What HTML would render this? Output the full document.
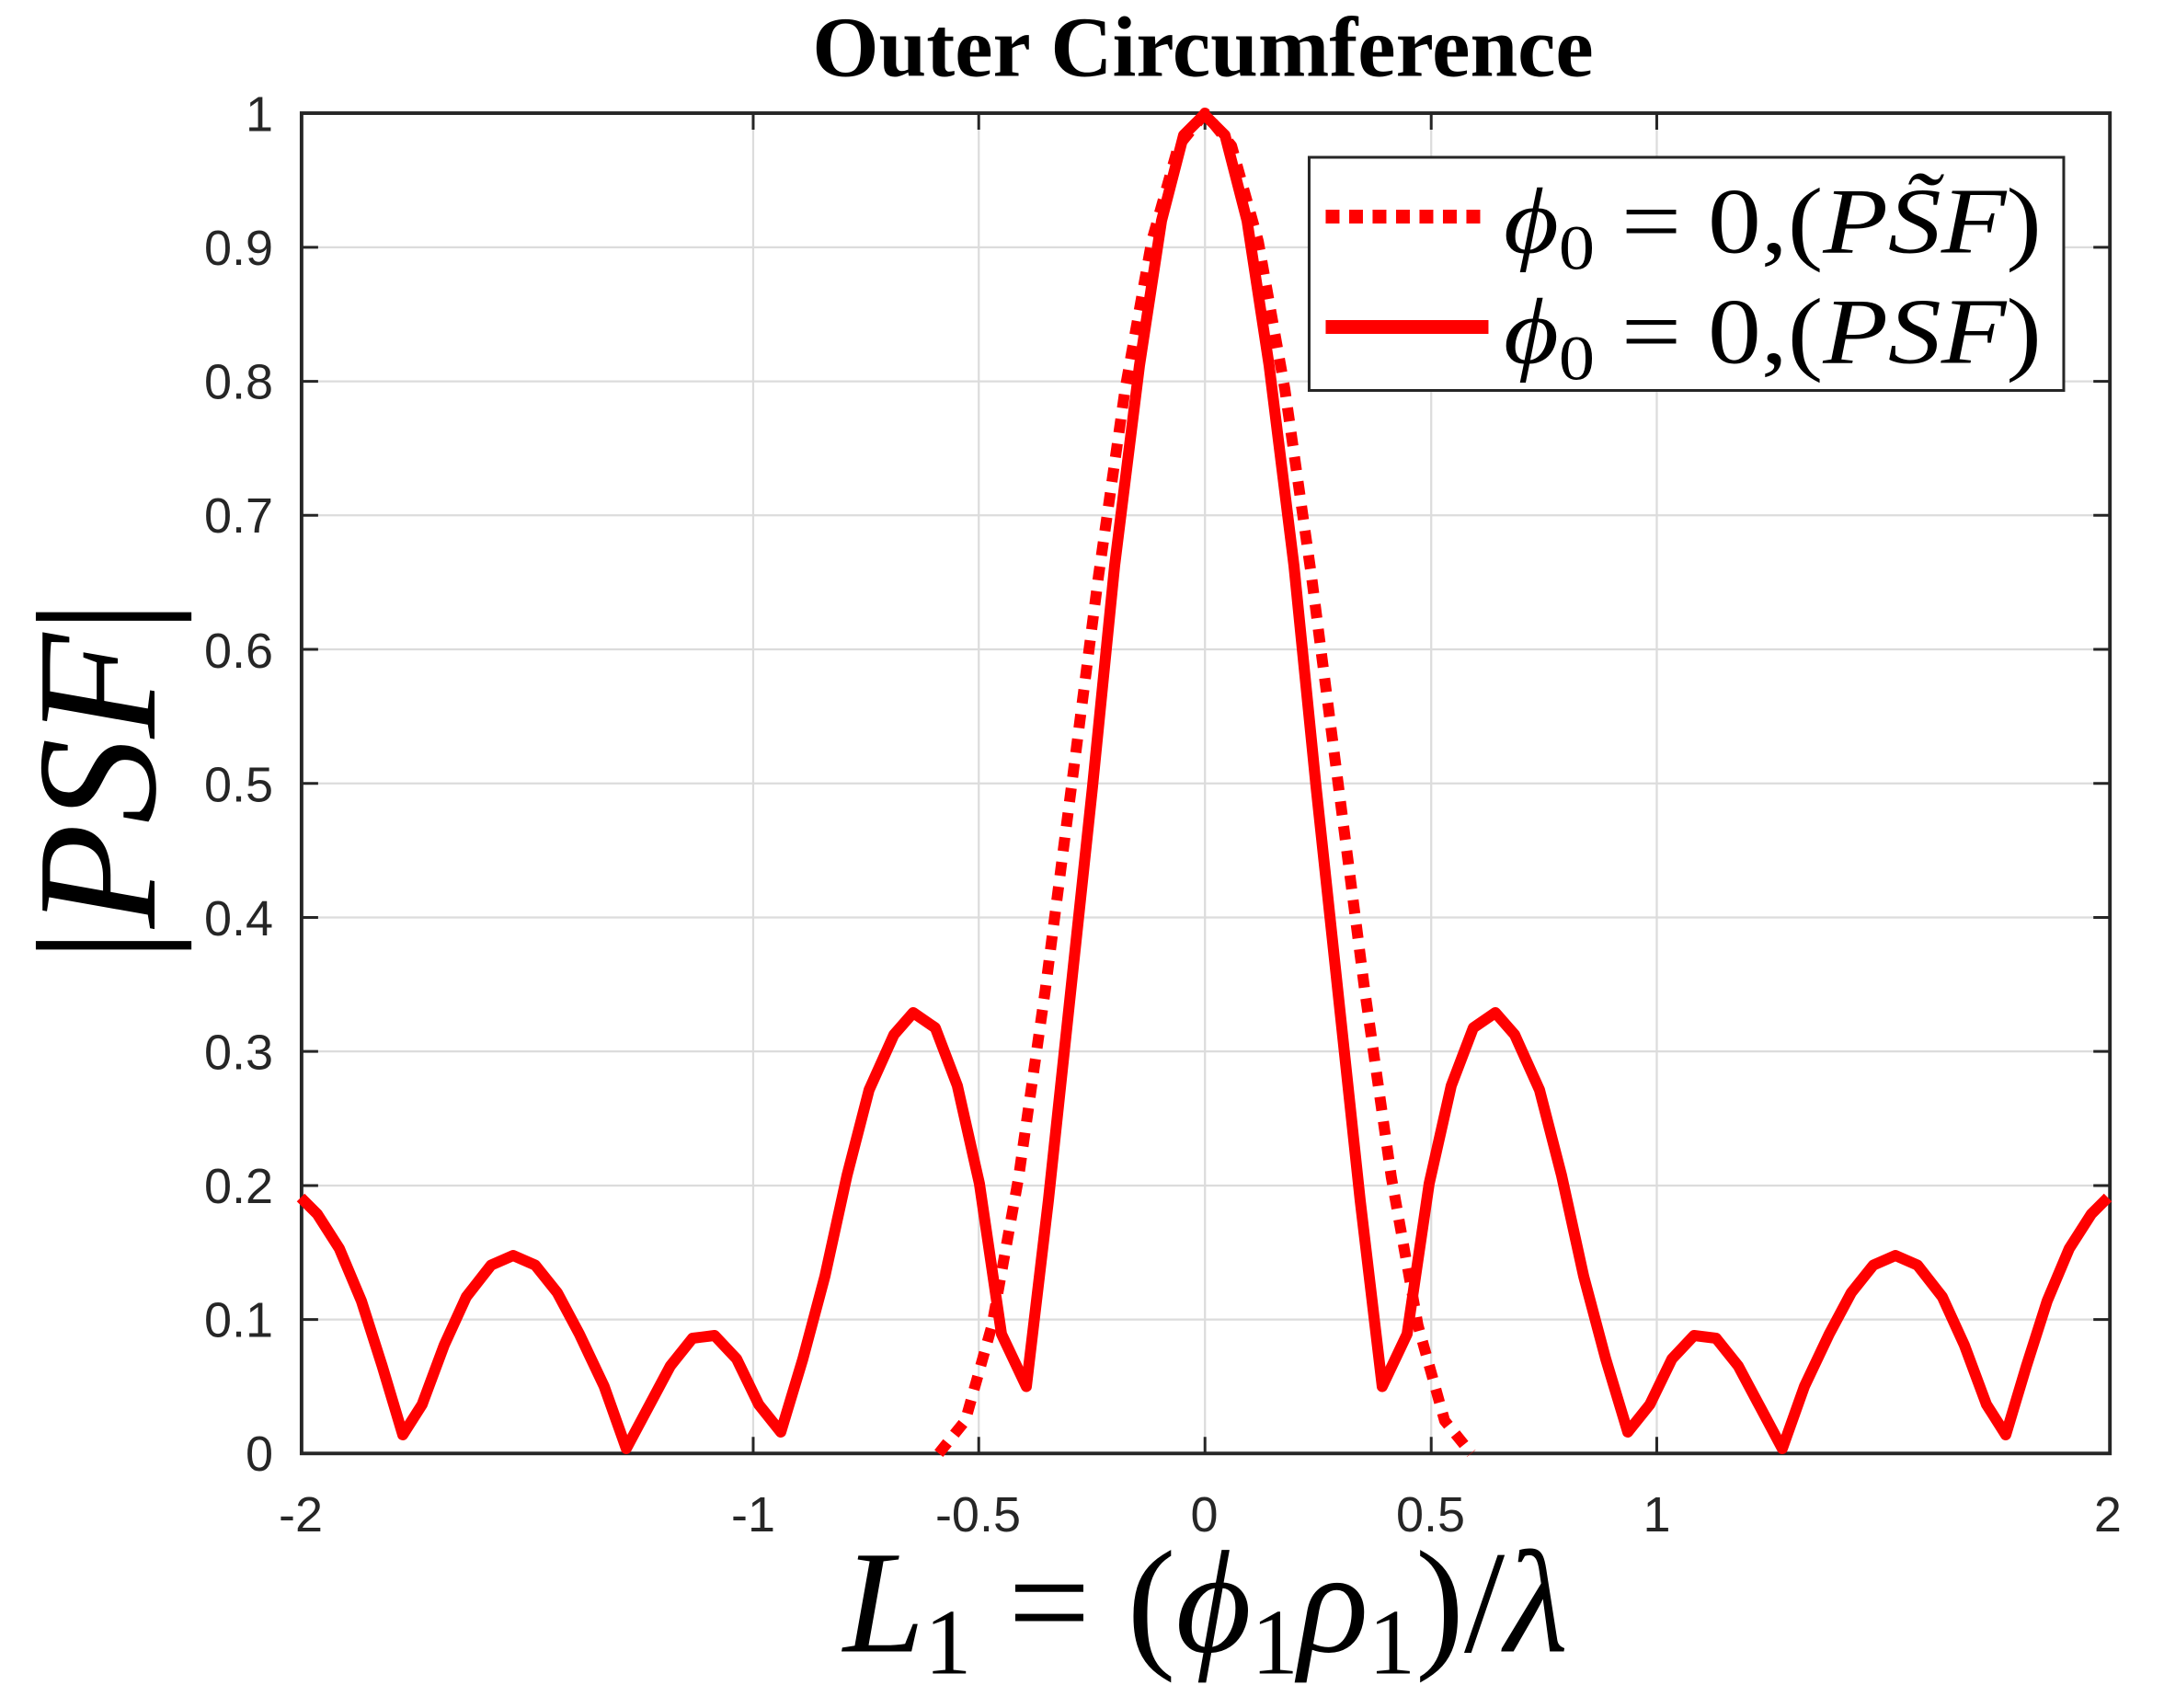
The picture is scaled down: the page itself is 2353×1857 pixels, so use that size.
<!DOCTYPE html>
<html><head><meta charset="utf-8"><style>
html,body{margin:0;padding:0;background:#fff;width:2353px;height:1857px;overflow:hidden}
svg{display:block}
.t{font-family:"Liberation Sans",sans-serif;font-size:36px;fill:#262626}
.m{font-family:"Liberation Serif",serif;fill:#000}
</style></head><body>
<svg width="2353" height="1857" viewBox="0 0 1568.7 1238" xmlns="http://www.w3.org/2000/svg">
<rect width="1568.7" height="1238" fill="#fff"/>
<g stroke="#dcdcdc" stroke-width="1.5">
<line x1="546" y1="82" x2="546" y2="1053.5"/><line x1="709.5" y1="82" x2="709.5" y2="1053.5"/>
<line x1="873.5" y1="82" x2="873.5" y2="1053.5"/><line x1="1037.5" y1="82" x2="1037.5" y2="1053.5"/>
<line x1="1201" y1="82" x2="1201" y2="1053.5"/>
<line x1="218.6" y1="956.4" x2="1529.5" y2="956.4"/><line x1="218.6" y1="859.3" x2="1529.5" y2="859.3"/>
<line x1="218.6" y1="762.1" x2="1529.5" y2="762.1"/><line x1="218.6" y1="665" x2="1529.5" y2="665"/>
<line x1="218.6" y1="567.8" x2="1529.5" y2="567.8"/><line x1="218.6" y1="470.7" x2="1529.5" y2="470.7"/>
<line x1="218.6" y1="373.5" x2="1529.5" y2="373.5"/><line x1="218.6" y1="276.4" x2="1529.5" y2="276.4"/>
<line x1="218.6" y1="179.2" x2="1529.5" y2="179.2"/>
</g>
<g stroke="#262626" stroke-width="2">
<path d="M218.6 956.4h12M218.6 859.3h12M218.6 762.1h12M218.6 665h12M218.6 567.8h12M218.6 470.7h12M218.6 373.5h12M218.6 276.4h12M218.6 179.2h12"/>
<path d="M1529.5 956.4h-12M1529.5 859.3h-12M1529.5 762.1h-12M1529.5 665h-12M1529.5 567.8h-12M1529.5 470.7h-12M1529.5 373.5h-12M1529.5 276.4h-12M1529.5 179.2h-12"/>
<path d="M546 1053.5v-12M709.5 1053.5v-12M873.5 1053.5v-12M1037.5 1053.5v-12M1201 1053.5v-12M546 82v12M709.5 82v12M873.5 82v12M1037.5 82v12M1201 82v12"/>
</g>
<rect x="218.6" y="82" width="1310.9" height="971.5" fill="none" stroke="#262626" stroke-width="2.6"/>
<g class="t" text-anchor="end">
<text x="198" y="1066">0</text><text x="198" y="969">0.1</text><text x="198" y="872">0.2</text><text x="198" y="775">0.3</text><text x="198" y="678">0.4</text><text x="198" y="581">0.5</text><text x="198" y="484">0.6</text><text x="198" y="386">0.7</text><text x="198" y="289">0.8</text><text x="198" y="192">0.9</text><text x="198" y="95">1</text>
</g>
<g class="t" text-anchor="middle">
<text x="218" y="1110">-2</text><text x="546" y="1110">-1</text><text x="709" y="1110">-0.5</text><text x="873" y="1110">0</text><text x="1037" y="1110">0.5</text><text x="1201" y="1110">1</text><text x="1528" y="1110">2</text>
</g>
<g fill="none" stroke="#ff0000" stroke-width="8" stroke-linejoin="round">
<polyline points="218,868 230,880 246,905 262,943 277,990 292,1040 306,1018 322,975 338,940 356,917 372,910 388,917 404,937 420,967 438,1005 454,1050 470,1020 486,990 502,970 518,968 534,985 550,1018 566,1038 582,985 598,925 614,852 630,790 648,750 662,734 678,745 694,787 710,858 726,967 744,1005 760,870 776,720 792,570 808,410 826,265 842,160 858,98 873,83 888,98 904,160 920,265 938,410 954,570 970,720 986,870 1002,1005 1020,967 1036,858 1052,787 1068,745 1084,734 1098,750 1116,790 1132,852 1148,925 1164,985 1180,1038 1196,1018 1212,985 1228,968 1244,970 1260,990 1276,1020 1292,1050 1308,1005 1326,967 1342,937 1358,917 1374,910 1390,917 1408,940 1424,975 1440,1018 1454,1040 1469,990 1484,943 1500,905 1516,880 1528,868"/>
<polyline stroke-dasharray="10,8" points="680.5,1053.5 699.8,1029.7 719.1,960.7 738.4,853.4 757.7,717.9 777,567.8 796.3,417.6 815.6,282.1 834.9,174.8 854.2,105.8 873.5,82 892.8,105.8 912.1,174.8 931.4,282.1 950.7,417.6 970,567.8 989.3,717.9 1008.6,853.4 1027.9,960.7 1047.2,1029.7 1066.5,1053.5"/>
</g>
<text x="872" y="55" text-anchor="middle" style="font-family:'Liberation Serif',serif;font-weight:bold;font-size:62px" fill="#000">Outer Circumference</text>
<rect x="949" y="114" width="547" height="169" fill="#fff" stroke="#262626" stroke-width="2"/>
<line x1="961" y1="157" x2="1079" y2="157" stroke="#f00" stroke-width="10" stroke-dasharray="10,7"/>
<line x1="961" y1="237" x2="1079" y2="237" stroke="#f00" stroke-width="10"/>
<text class="m" x="1090" y="183" font-size="68" textLength="390" lengthAdjust="spacingAndGlyphs"><tspan font-style="italic">ϕ</tspan><tspan font-size="46" dy="12">0</tspan><tspan dy="-12"> = 0,(</tspan><tspan font-style="italic">PS̃F</tspan>)</text>
<text class="m" x="1090" y="263" font-size="68" textLength="390" lengthAdjust="spacingAndGlyphs"><tspan font-style="italic">ϕ</tspan><tspan font-size="46" dy="12">0</tspan><tspan dy="-12"> = 0,(</tspan><tspan font-style="italic">PSF</tspan>)</text>
<text class="m" transform="translate(112,566) rotate(-90)" text-anchor="middle" font-size="124">|<tspan font-style="italic">PSF</tspan>|</text>
<text class="m" x="874" y="1197" text-anchor="middle" font-size="106"><tspan font-style="italic">L</tspan><tspan font-size="68" dy="16">1</tspan><tspan dy="-16"> = (</tspan><tspan font-style="italic">ϕ</tspan><tspan font-size="68" dy="16">1</tspan><tspan dy="-16" font-style="italic">ρ</tspan><tspan font-size="68" dy="16">1</tspan><tspan dy="-16">)/</tspan><tspan font-style="italic">λ</tspan></text>
</svg>
</body></html>
